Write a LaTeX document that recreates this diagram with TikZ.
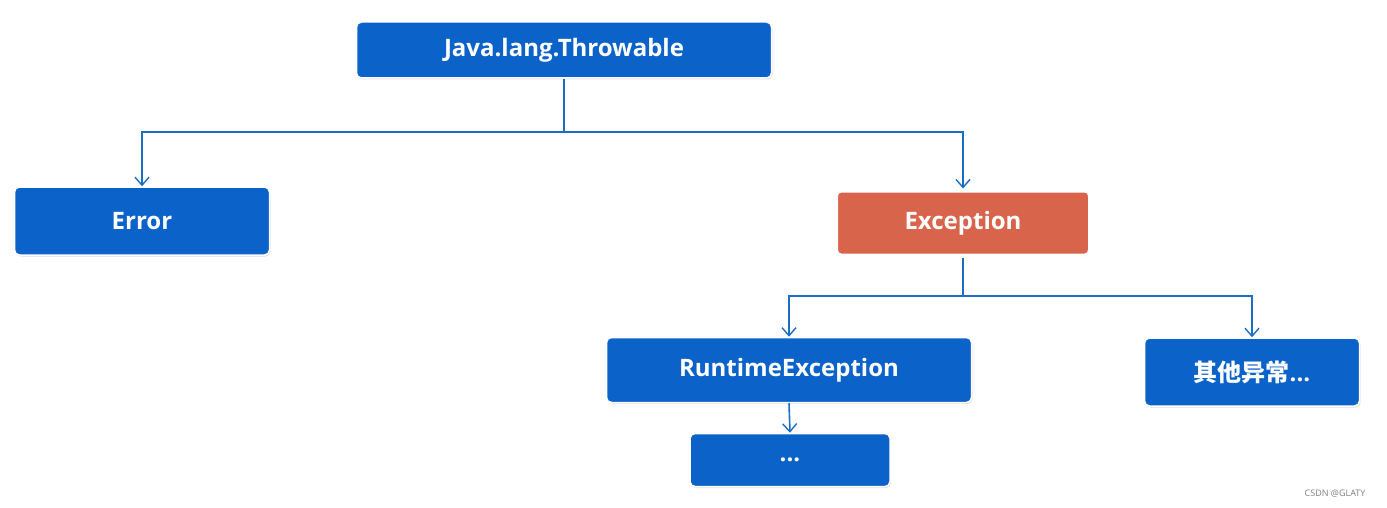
\documentclass[tikz,border=0pt]{standalone}
\usepackage{fontspec}
\setmainfont{Open Sans}
\newfontfamily\cjk{Noto Sans CJK SC}
\usetikzlibrary{arrows.meta,shadows}
\definecolor{bx}{HTML}{0B62C9}
\definecolor{ln}{HTML}{1C6DC4}
\definecolor{ex}{HTML}{D8644C}
\begin{document}
\begin{tikzpicture}[x=1pt,y=-1pt,
 box/.style={draw=white,line width=1.5pt,fill=bx,rounded corners=5pt,text=white,font=\bfseries\fontsize{24}{28}\selectfont,inner sep=0pt,drop shadow={shadow xshift=1pt,shadow yshift=-1.5pt,opacity=0.25}},
 con/.style={draw=ln,line width=1.6pt},
 arr/.style={con,-{Straight Barb[length=8pt,width=14pt,line width=1.4pt]}}]
\useasboundingbox (0,0) rectangle (1387,508);
\node[box,minimum width=415pt,minimum height=56pt] (t) at (564,50) {Java.lang.Throwable};
\node[box,minimum width=255pt,minimum height=68pt] (e) at (142,221) {Error};
\node[box,fill=ex,draw=white,line width=4pt,minimum width=254pt,minimum height=65pt] (x) at (963,223) {Exception};
\node[box,minimum width=365pt,minimum height=65pt] (r) at (789,370) {RuntimeException};
\node[box,minimum width=215pt,minimum height=68pt] (o) at (1252,372) {{\cjk\bfseries 其他异常}...};
\node[box,minimum width=200pt,minimum height=53pt] (d) at (790,460) {...};
\coordinate (j1) at (564,132);
\coordinate (j2) at (963,296);
\draw[con] (t.south) -- (j1);
\draw[arr] (j1) -| (e.north);
\draw[arr] (j1) -| (x.north);
\draw[con] (x.south) -- (j2);
\draw[arr] (j2) -| (r.north);
\draw[arr] (j2) -| (o.north);
\draw[arr] (r.south) -- (d.north);
\node[text=gray,font=\fontsize{9}{10}\selectfont] (w) at (1335,494) {CSDN @GLATY};
\end{tikzpicture}
\end{document}
